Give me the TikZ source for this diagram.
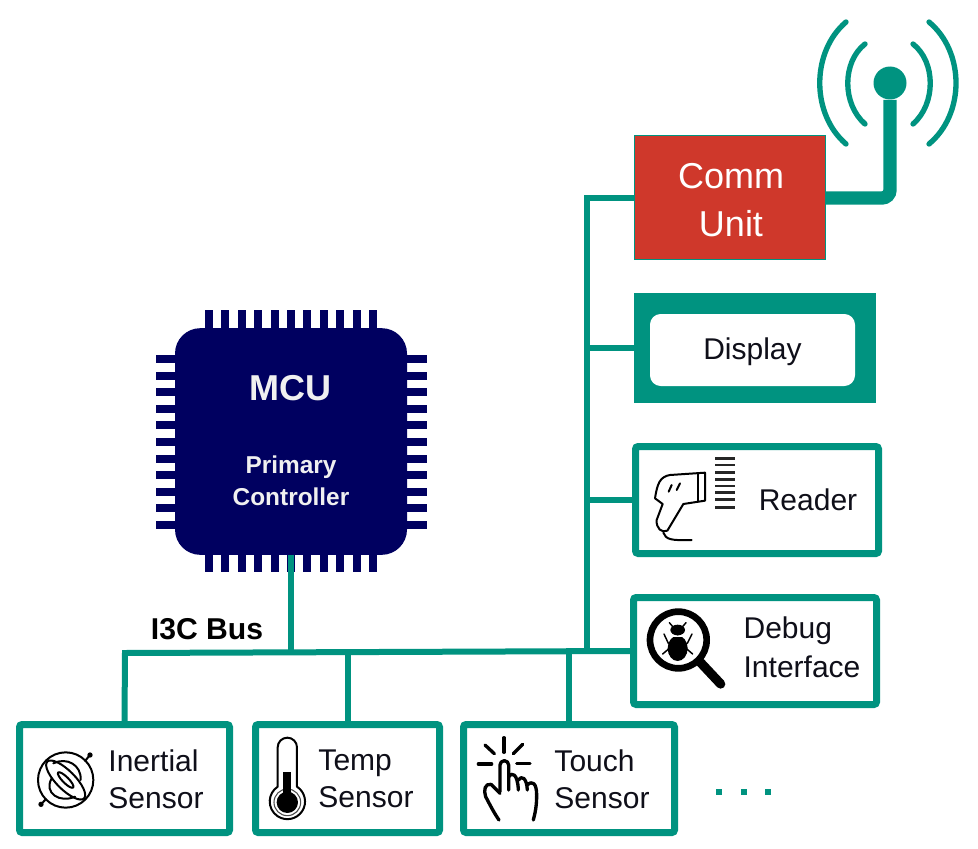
\documentclass[tikz,border=0pt]{standalone}
\usepackage{fontspec}
\setmainfont{Liberation Sans}
\usetikzlibrary{positioning, calc}
\definecolor{buscolor}{RGB}{0, 147, 128}
\definecolor{chipcolor}{RGB}{0, 0, 96}
\definecolor{commcolor}{RGB}{207, 56, 43}
\definecolor{chiptext}{RGB}{240, 240, 240}
\definecolor{labelcolor}{RGB}{15, 15, 25}
\tikzset{
  devicebox/.style={draw=buscolor, fill=white, line width=5.25pt, rounded corners=2pt},
  busline/.style={draw=buscolor, line width=4.5pt},
  wave/.style={draw=buscolor, line width=4pt, line cap=round},
  boxlabel/.style={text=labelcolor, font=\fontsize{22.5pt}{28pt}\selectfont, align=left, inner sep=0pt},
  icon/.style={draw=black, line width=1.5pt, line cap=round, line join=round},
  handline/.style={icon, line width=2.5pt},
  pin/.style={fill=chipcolor}
}
\begin{document}
\begin{tikzpicture}[x=0.75pt, y=-0.75pt]
        \useasboundingbox (0, 0) rectangle (978, 849);

        % Controller
        \foreach \i in {0,...,10} {
            \fill[pin] ({208.7+16.46*\i-4}, 310) rectangle ({208.7+16.46*\i+4}, 572);
            \fill[pin] (156, {359+16.6*\i-4}) rectangle (427, {359+16.6*\i+4});
        }
        \node[fill=chipcolor, rounded corners=19pt, minimum width=174pt, minimum height=170pt, inner sep=0pt] (mcu) at (291, 441.5) {};
        \node[text=chiptext, font=\fontsize{27pt}{30pt}\selectfont\bfseries] (mcutitle) at (290.5, 388) {MCU};
        \node[text=chiptext, font=\fontsize{18.3pt}{24pt}\selectfont\bfseries, align=center] (mcusub) at (291, 481) {Primary\\Controller};

        % Right column
        \node[draw=buscolor, fill=commcolor, line width=1pt, minimum width=143pt, minimum height=93pt, inner sep=0pt] (comm) at (730, 197.5) {};
        \node[text=white, font=\fontsize{27pt}{36.5pt}\selectfont, align=center, inner sep=0pt] (commlabel) at (731, 200) {Comm\\Unit};
        \node[fill=buscolor, minimum width=181.5pt, minimum height=82.5pt, inner sep=0pt] (display) at (755, 348) {};
        \node[fill=white, rounded corners=8pt, minimum width=153.75pt, minimum height=54pt, inner sep=0pt] (displayin) at (752.5, 350) {};
        \node[boxlabel] (displaylabel) at (752.5, 352) {Display};
        \node[devicebox, minimum width=182.25pt, minimum height=80.25pt, inner sep=0pt] (reader) at (757, 500) {};
        \node[devicebox, minimum width=182.25pt, minimum height=80.25pt, inner sep=0pt] (debug) at (755, 651) {};

        % Bottom row
        \node[devicebox, minimum width=157.5pt, minimum height=81pt, inner sep=0pt] (inertial) at (124.5, 778.5) {};
        \node[devicebox, minimum width=138pt, minimum height=81pt, inner sep=0pt] (temp) at (347.5, 778.5) {};
        \node[devicebox, minimum width=158.25pt, minimum height=81pt, inner sep=0pt] (touch) at (569, 778.5) {};

        % Labels
        \node[boxlabel] (readerlabel) at (808, 500) {Reader};
        \node[boxlabel, font=\fontsize{22.5pt}{29.25pt}\selectfont] (debuglabel) at (802, 647) {Debug\\Interface};
        \node[boxlabel] (inertiallabel) at (156, 779) {Inertial\\Sensor};
        \node[boxlabel] (templabel) at (366, 779) {Temp\\Sensor};
        \node[boxlabel] (touchlabel) at (602, 779) {Touch\\Sensor};
        \node[text=black, font=\fontsize{22.6pt}{26pt}\selectfont\bfseries, inner sep=0pt] (buslabel) at (207, 629) {I3C Bus};

        % Bus
        \coordinate (busleft) at (125, 653);
        \coordinate (riser) at (587, 648);
        \draw[busline] (inertial.north) -- (busleft) -- (debug.west);
        \draw[busline] (temp.north) -- (temp.north |- busleft);
        \draw[busline] (touch.north) -- (touch.north |- riser);
        \draw[busline] (mcu.south) -- (mcu.south |- busleft);
        \draw[busline] (comm.west) -| (riser);
        \draw[busline] (display.west) -- (display.west -| riser);
        \draw[busline] (reader.west) -- (reader.west -| riser);

        % Antenna
        \node[circle, fill=buscolor, minimum size=24.75pt, inner sep=0pt] (mast) at (890, 83) {};
        \draw[draw=buscolor, line width=10pt, rounded corners=6pt] (comm.east |- 0, 198) -| (mast);
        \draw[wave] (865, 44) .. controls (842, 62) and (842, 104) .. (865, 124);
        \draw[wave] (846, 22) .. controls (811, 52) and (811, 114) .. (846, 144);
        \draw[wave] (913, 44) .. controls (936, 62) and (936, 104) .. (913, 124);
        \draw[wave] (929, 22) .. controls (965, 52) and (965, 114) .. (929, 144);

        % More sensors
        \foreach \x in {719, 744, 768} {
            \fill[buscolor] (\x-3, 789) rectangle (\x+3, 795);
        }

        % Scanner icon
        \begin{scope}[shift={(630, 430)}, scale=1/3]
            \draw[icon] (225, 128) -- (120, 135) .. controls (90, 140) and (82, 160) .. (75, 205)
                -- (98, 222) -- (80, 270) .. controls (78, 295) and (95, 310) .. (112, 302)
                -- (160, 222) -- (225, 212) -- cycle;
            \draw[icon] (205, 130) -- (205, 214);
            \draw[icon] (100, 308) .. controls (108, 328) and (120, 332) .. (185, 330);
            \draw[icon] (116, 185) -- (125, 165);
            \draw[icon] (140, 180) -- (150, 160);
            \foreach \y in {85, 105, 128, 148, 168, 188, 208, 232} {
                \draw[draw=black!85, line width=2pt] (255, \y) -- (315, \y);
            }
        \end{scope}

        % Bug icon
        \begin{scope}[shift={(630, 430)}, scale=1/3]
            \draw[draw=black, line width=5pt] (145, 630) circle (85);
            \draw[draw=black, line width=7pt, line cap=round] (212, 698) -- (272, 762);
            \fill[black] (143, 655) ellipse (30 and 38);
            \fill[black] (143, 600) ellipse (22 and 16);
            \draw[draw=white, line width=0.8pt] (113, 620) -- (173, 620);
            \draw[icon, line width=1.1pt] (118, 578) -- (130, 592);
            \draw[icon, line width=1.1pt] (168, 578) -- (156, 592);
            \draw[icon, line width=1.1pt] (102, 612) -- (115, 640) ;
            \draw[icon, line width=1.1pt] (186, 612) -- (172, 640);
            \draw[icon, line width=1.1pt] (98, 672) -- (118, 655);
            \draw[icon, line width=1.1pt] (188, 672) -- (168, 655);
        \end{scope}

        % Inertial icon
        \begin{scope}[shift={(10, 715)}, scale=1/3]
            \draw[icon] (167, 195) circle (83);
            \draw[icon, rotate around={-45:(167, 195)}] (167, 195) ellipse (78 and 28);
            \draw[icon, rotate around={-45:(167, 195)}] (167, 195) ellipse (32 and 9);
            \draw[icon] (130, 145) .. controls (170, 125) and (215, 150) .. (212, 195);
            \draw[icon] (125, 190) .. controls (100, 235) and (150, 265) .. (195, 245);
            \draw[icon] (225, 138) -- (240, 120);
            \draw[icon] (108, 252) -- (93, 268);
            \fill[black] (240, 120) circle (8);
            \fill[black] (93, 268) circle (8);
        \end{scope}

        % Thermometer icon
        \begin{scope}[shift={(10, 715)}, scale=1/3]
            \draw[icon] (803, 215) -- (803, 97) arc[start angle=180, end angle=360, radius=29] -- (861, 215)
                arc[start angle=-57, end angle=237, radius=53];
            \draw[draw=black!70, line width=0.8pt] (832, 262) circle (40);
            \fill[black] (832, 262) circle (32);
            \fill[black] (820, 170) rectangle (844, 262);
        \end{scope}

        % Touch icon
        \begin{scope}[shift={(455, 715)}, scale=1/3]
            \draw[handline] (147, 68) -- (147, 112);
            \draw[handline] (70, 147) -- (110, 147);
            \draw[handline] (185, 145) -- (225, 145);
            \draw[handline] (90, 90) -- (118, 116);
            \draw[handline] (203, 88) -- (175, 116);
            \draw[handline] (135, 230) -- (135, 150) arc[start angle=180, end angle=360, radius=13] -- (161, 225);
            \draw[handline] (161, 185) .. controls (170, 170) and (188, 175) .. (190, 225);
            \draw[handline] (190, 195) .. controls (200, 180) and (215, 188) .. (217, 225);
            \draw[handline] (217, 210) .. controls (232, 195) and (245, 205) .. (245, 240)
                .. controls (245, 275) and (240, 295) .. (235, 315);
            \draw[handline] (135, 235) -- (108, 208) .. controls (90, 205) and (85, 225) .. (92, 245)
                .. controls (105, 270) and (118, 295) .. (132, 315);
        \end{scope}
    \end{tikzpicture}
\end{document}
